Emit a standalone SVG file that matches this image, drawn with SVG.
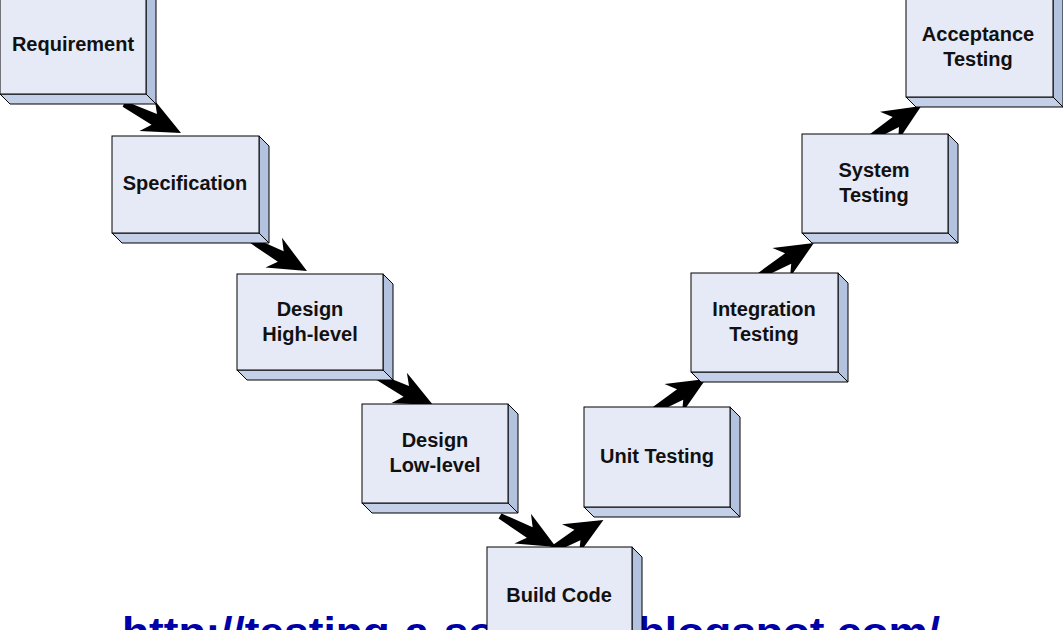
<svg xmlns="http://www.w3.org/2000/svg" width="1063" height="630" viewBox="0 0 1063 630">
<style>
.f{fill:#e6eaf6;stroke:#000;stroke-width:1}
.s{fill:#b3c3df;stroke:#000;stroke-width:1}
.b{fill:#c3d0e8;stroke:#000;stroke-width:1}
text.t{font-family:"Liberation Sans",Arial,sans-serif;font-weight:bold;font-size:20px;fill:#111;text-anchor:middle}
.ar{fill:#000}
</style>
<defs>
<polygon id="arw" points="0,-3 34,-6 26,-17 64,0 26,17 34,6 0,3"/>
</defs>
<rect width="1063" height="630" fill="#fff"/>
<text x="122" y="646" font-family="Liberation Sans,Arial,sans-serif" font-weight="bold" font-size="40" fill="#0000a8" textLength="818" lengthAdjust="spacingAndGlyphs">http://testing-a-software.blogspot.com/</text>
<g id="connectors" class="ar">
<use href="#arw" transform="translate(124,104) rotate(27)"/>
<use href="#arw" transform="translate(251,240) rotate(29)"/>
<use href="#arw" transform="translate(376,376) rotate(27)"/>
<use href="#arw" transform="translate(500,516) rotate(29)"/>
<use href="#arw" transform="translate(548,552) rotate(-30)"/>
<use href="#arw" transform="translate(651,412) rotate(-31)"/>
<use href="#arw" transform="translate(759,276) rotate(-31)"/>
<use href="#arw" transform="translate(867,140) rotate(-32)"/>
</g>
<g id="n1"><polygon class="s" points="146,-10 156,0 156,104 146,94"/><polygon class="b" points="0,94 146,94 156,104 10,104"/><rect class="f" x="0" y="-10" width="146" height="104"/><text class="t" x="73" y="51">Requirement</text></g>
<g id="n2"><polygon class="s" points="259,136 269,146 269,243 259,233"/><polygon class="b" points="112,233 259,233 269,243 122,243"/><rect class="f" x="112" y="136" width="147" height="97"/><text class="t" x="185" y="190">Specification</text></g>
<g id="n3"><polygon class="s" points="383,274 393,284 393,380 383,370"/><polygon class="b" points="237,370 383,370 393,380 247,380"/><rect class="f" x="237" y="274" width="146" height="96"/><text class="t" x="310" y="316">Design</text><text class="t" x="310" y="341">High-level</text></g>
<g id="n4"><polygon class="s" points="508,404 518,414 518,513 508,503"/><polygon class="b" points="362,503 508,503 518,513 372,513"/><rect class="f" x="362" y="404" width="146" height="99"/><text class="t" x="435" y="447">Design</text><text class="t" x="435" y="472">Low-level</text></g>
<g id="n5"><polygon class="s" points="632,547 642,557 642,650 632,640"/><rect class="f" x="487" y="547" width="145" height="93"/><text class="t" x="559" y="602">Build Code</text></g>
<g id="n6"><polygon class="s" points="730,407 740,417 740,517 730,507"/><polygon class="b" points="584,507 730,507 740,517 594,517"/><rect class="f" x="584" y="407" width="146" height="100"/><text class="t" x="657" y="463">Unit Testing</text></g>
<g id="n7"><polygon class="s" points="838,273 848,283 848,382 838,372"/><polygon class="b" points="691,372 838,372 848,382 701,382"/><rect class="f" x="691" y="273" width="147" height="99"/><text class="t" x="764" y="316">Integration</text><text class="t" x="764" y="341">Testing</text></g>
<g id="n8"><polygon class="s" points="948,134 958,144 958,243 948,233"/><polygon class="b" points="802,233 948,233 958,243 812,243"/><rect class="f" x="802" y="134" width="146" height="99"/><text class="t" x="874" y="177">System</text><text class="t" x="874" y="202">Testing</text></g>
<g id="n9"><polygon class="s" points="1053,-10 1063,0 1063,107 1053,97"/><polygon class="b" points="906,97 1053,97 1063,107 916,107"/><rect class="f" x="906" y="-10" width="147" height="107"/><text class="t" x="978" y="41">Acceptance</text><text class="t" x="978" y="66">Testing</text></g>
</svg>
